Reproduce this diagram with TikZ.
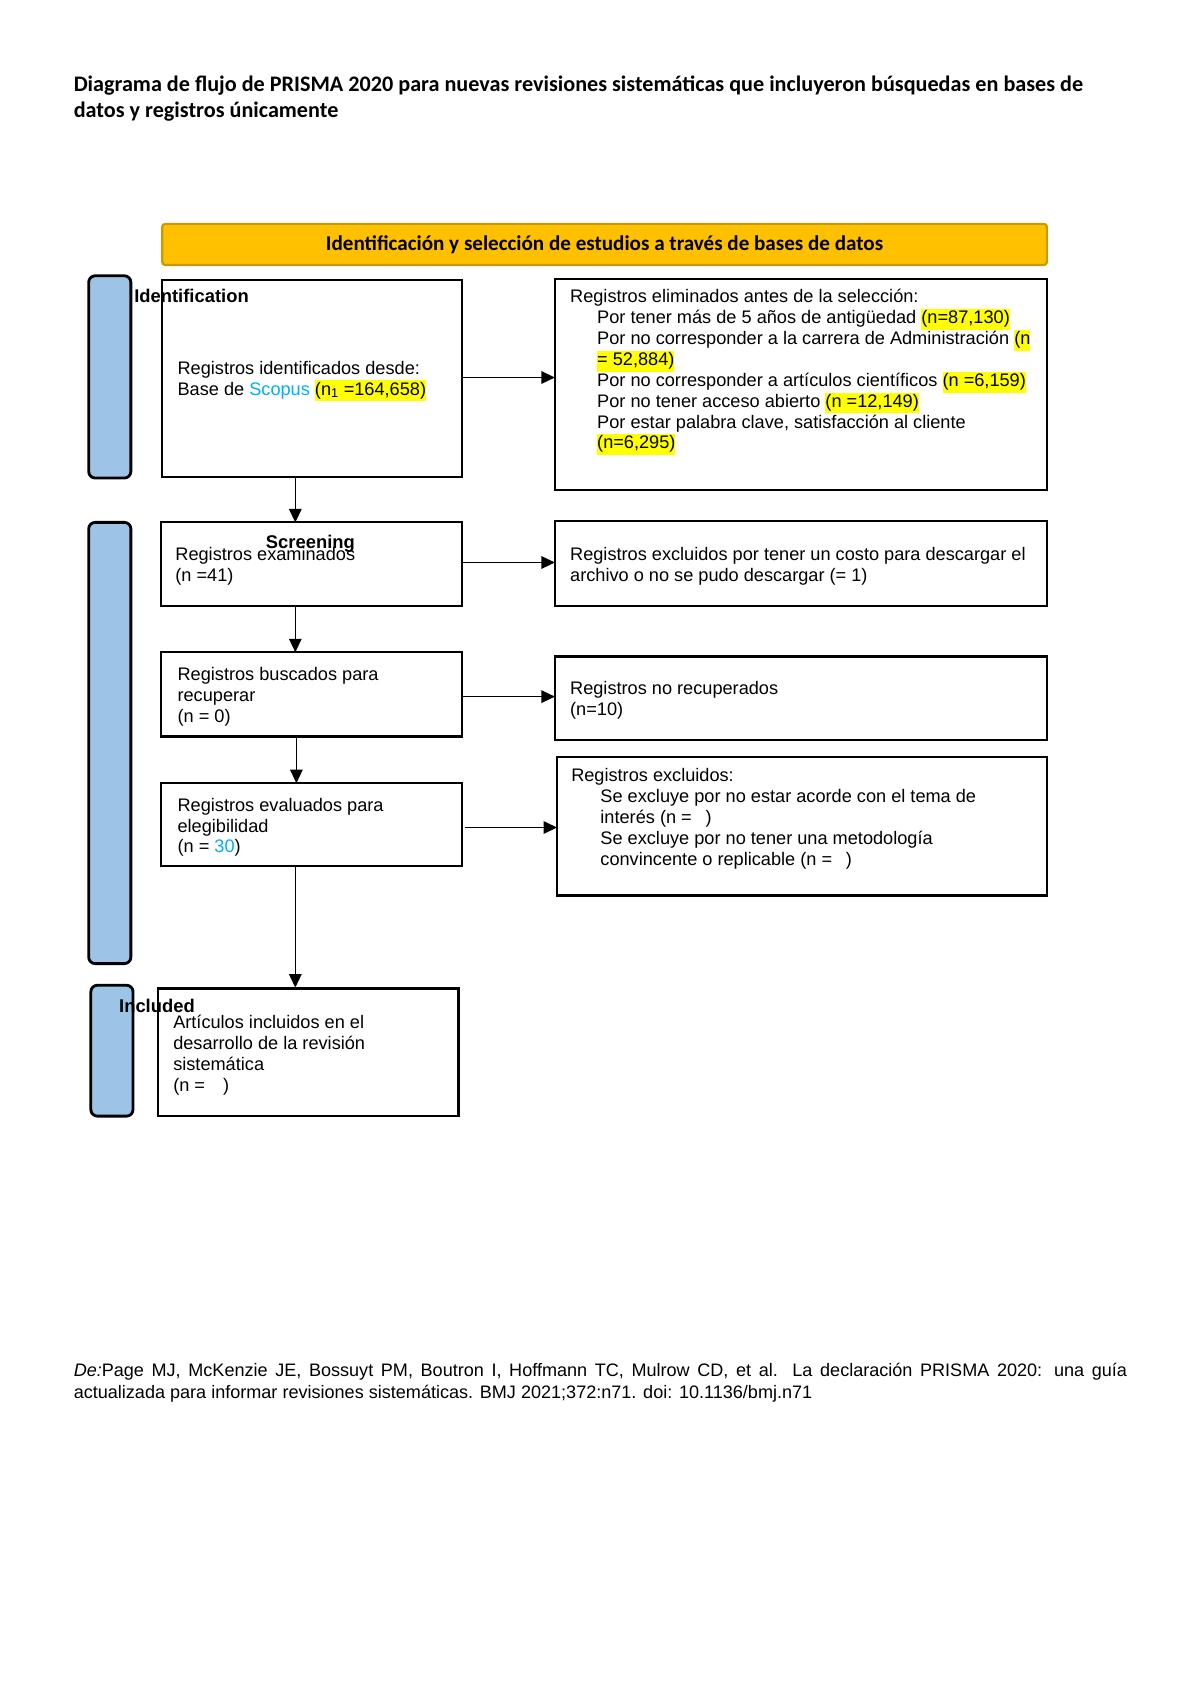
\documentclass[tikz,border=0pt]{standalone}
\usepackage{fontspec}
\usetikzlibrary{arrows.meta}
\newfontfamily\arialf{Liberation Sans}
\newfontfamily\calib{Carlito}
\definecolor{hdrfill}{HTML}{FFC000}
\definecolor{hdrdraw}{HTML}{C99A00}
\definecolor{barfill}{HTML}{9DC3E6}
\definecolor{lblue}{HTML}{00B0F0}
\definecolor{hly}{HTML}{FFFF00}
\newcommand{\hlt}[1]{{\setlength{\fboxsep}{0pt}\colorbox{hly}{\strut#1}}}
\newcommand{\tl}[1]{\begin{tabular}[t]{@{}l@{}}#1\end{tabular}}
\newcommand{\ind}{\hspace*{25pt}}
\newcommand{\indb}{\hspace*{27pt}}
\begin{document}
\begin{tikzpicture}[x=1pt,y=-1pt,scale=1.0815,every node/.style={transform shape},
 box/.style={draw,line width=2.2pt,rectangle,inner sep=0,outer sep=0},
 bar/.style={draw,line width=2.8pt,fill=barfill,rounded corners=6.5pt,inner sep=0,outer sep=0},
 txt/.style={inner sep=0,anchor=base west,font=\arialf\fontsize{16.8}{19.3}\selectfont},
 lbl/.style={inner sep=0,anchor=base west,font=\arialf\bfseries\fontsize{17}{20}\selectfont},
 arr/.style={line width=1.45pt,-{Triangle[length=13.5pt,width=12.5pt]}},
]
\fill[white] (0,0) rectangle (1109.6,1568.2);
\useasboundingbox (0,0) rectangle (1109.6,1568.2);

% title
\node[inner sep=0,anchor=base west,font=\calib\bfseries\fontsize{20.5}{24}\selectfont] (title) at (68,85)
 {\tl{Diagrama de flujo de PRISMA 2020 para nuevas revisiones sistemáticas que incluyeron búsquedas en bases de\\datos y registros únicamente}};

% header
\node[draw=hdrdraw,fill=hdrfill,line width=2.2pt,rounded corners=3pt,minimum width=818pt,minimum height=38pt,inner sep=0,outer sep=0,font=\calib\bfseries\fontsize{19.5}{22}\selectfont] (hdr) at (559,226) {Identificación y selección de estudios a través de bases de datos};

% side bars
\node[bar,minimum width=39pt,minimum height=187pt] (bid) at (101.5,348.5) {};
\node[bar,minimum width=39pt,minimum height=408pt] (bsc) at (101.5,687) {};
\node[bar,minimum width=39pt,minimum height=121pt] (bin) at (103.5,971.5) {};

% boxes
\node[box,minimum width=277pt,minimum height=182pt] (b1) at (288.5,350) {};
\node[box,minimum width=455pt,minimum height=195pt] (r1) at (740.5,355.5) {};
\node[box,minimum width=278pt,minimum height=77pt] (b2) at (288,521.5) {};
\node[box,minimum width=455pt,minimum height=78pt] (r2) at (740.5,521) {};
\node[box,minimum width=278pt,minimum height=78pt] (b3) at (288,642) {};
\node[box,minimum width=455pt,minimum height=77pt] (r3) at (740.5,645.5) {};
\node[box,minimum width=278pt,minimum height=77pt] (b4) at (288,762.5) {};
\node[box,minimum width=453pt,minimum height=128pt] (r4) at (741.5,764) {};
\node[box,minimum width=278pt,minimum height=118pt] (b5) at (285,973) {};

% texts
\node[txt] (t1) at (164,346) {\tl{Registros identificados desde:\\Base de \textcolor{lblue}{Scopus} \hlt{(n\textsubscript{1} =164,658)}}};
\node[txt] (tr1) at (527,280) {\tl{Registros eliminados antes de la selección:\\
\ind Por tener más de 5 años de antigüedad \hlt{(n=87,130)}\\
\ind Por no corresponder a la carrera de Administración \hlt{(n}\\
\ind\hlt{= 52,884)}\\
\ind Por no corresponder a artículos científicos \hlt{(n =6,159)}\\
\ind Por no tener acceso abierto \hlt{(n =12,149)}\\
\ind Por estar palabra clave, satisfacción al cliente\\
\ind\hlt{(n=6,295)}}};
\node[txt] (t2) at (162,518) {\tl{Registros examinados\\(n =41)}};
\node[txt] (tr2) at (527,518) {\tl{Registros excluidos por tener un costo para descargar el\\archivo o no se pudo descargar (= 1)}};
\node[txt] (t3) at (164,629) {\tl{Registros buscados para\\recuperar\\(n = 0)}};
\node[txt] (tr3) at (527,642) {\tl{Registros no recuperados\\(n=10)}};
\node[txt] (t4) at (164,750) {\tl{Registros evaluados para\\elegibilidad\\(n = \textcolor{lblue}{30})}};
\node[txt] (tr4) at (528,723) {\tl{Registros excluidos:\\
\indb Se excluye por no estar acorde con el tema de\\
\indb interés (n = \hspace{8pt})\\
\indb Se excluye por no tener una metodología\\
\indb convincente o replicable (n = \hspace{8pt})}};
\node[txt] (t5) at (160,951) {\tl{Artículos incluidos en el\\desarrollo de la revisión\\sistemática\\(n = \hspace{12pt})}};

% arrows
\coordinate (ax) at (273,0);
\coordinate (ax2) at (274,0);
\draw[arr] (b1.south -| ax) -- (b2.north -| ax);
\draw[arr] (b2.south -| ax) -- (b3.north -| ax);
\draw[arr] (b3.south -| ax2) -- (b4.north -| ax2);
\draw[arr] (b4.south -| ax) -- ([yshift=1pt]b5.north -| ax);
\draw[arr] ([yshift=1pt]b1.east) -- ([yshift=1pt]b1.east -| r1.west);
\draw[arr] ([yshift=1.5pt]b2.east) -- ([yshift=1.5pt]b2.east -| r2.west);
\draw[arr] ([yshift=-2pt]b3.east) -- ([yshift=-2pt]b3.east -| r3.west);
\draw[arr] ([xshift=3pt,yshift=-2.5pt]b4.east) -- ([yshift=-2.5pt]b4.east -| r4.west);

% phase labels
\node[lbl] (lid) at (124,280) {Identification};
\node[lbl,anchor=base] (lsc) at (287,507) {Screening};
\node[lbl] (lin) at (110,936) {Included};

% footer
\node[inner sep=0,anchor=base west,font=\arialf\fontsize{16.7}{20}\selectfont] (foot) at (68,1273)
 {\parbox[t]{974pt}{\hyphenpenalty=10000\exhyphenpenalty=10000\textit{De:}Page MJ, McKenzie JE, Bossuyt PM, Boutron I, Hoffmann TC, Mulrow CD, et al. La declaración PRISMA 2020: una guía actualizada para informar revisiones sistemáticas. BMJ 2021;372:n71. doi: 10.1136/bmj.n71}};
\end{tikzpicture}
\end{document}
